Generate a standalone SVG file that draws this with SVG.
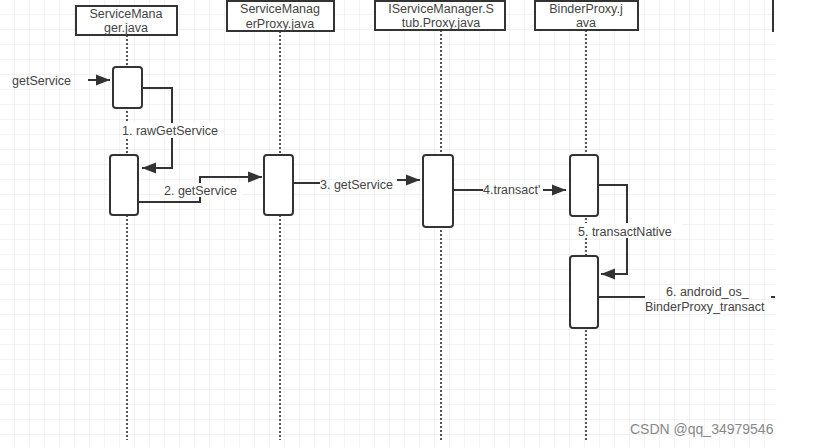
<svg xmlns="http://www.w3.org/2000/svg" width="814" height="447" viewBox="0 0 814 447">
<defs>
<pattern id="g" width="15" height="15" patternUnits="userSpaceOnUse"><path d="M15 0V15H0" fill="none" stroke="#e6e6e6" stroke-width="1"/></pattern>
<marker id="a" viewBox="0 0 10 10" refX="10" refY="5" markerWidth="7" markerHeight="7" orient="auto"><path d="M0 1L10 5L0 9z" fill="#333"/></marker>
<style>
text{font-family:"Liberation Sans",Arial,sans-serif;font-size:12.5px;fill:#444}
.h{fill:#fff;stroke:#333;stroke-width:2}
.act{fill:#fff;stroke:#333;stroke-width:2}
.ll{stroke:#555;stroke-width:2;stroke-dasharray:2 2}
.c{fill:none;stroke:#333;stroke-width:2}
.lb{fill:#fff}
</style>
</defs>
<rect width="814" height="447" fill="#fff"/>
<rect width="775" height="447" fill="url(#g)"/>
<line x1="773" y1="0" x2="773" y2="32" stroke="#333" stroke-width="2"/>
<g id="lifelines">
<line class="ll" x1="127" y1="35" x2="127" y2="440"/>
<line class="ll" x1="280" y1="31" x2="280" y2="440"/>
<line class="ll" x1="441" y1="30" x2="441" y2="440"/>
<line class="ll" x1="586" y1="30" x2="586" y2="440"/>
</g>
<g id="h1"><rect class="h" x="76" y="6" width="101" height="29"/><text x="126" y="18" text-anchor="middle">ServiceMana</text><text x="126" y="32" text-anchor="middle">ger.java</text></g>
<g id="h2"><rect class="h" x="227" y="1" width="107" height="30"/><text x="280" y="13" text-anchor="middle">ServiceManag</text><text x="280" y="28" text-anchor="middle">erProxy.java</text></g>
<g id="h3"><rect class="h" x="375" y="1" width="130" height="29"/><text x="441" y="13" text-anchor="middle">IServiceManager.S</text><text x="441" y="27" text-anchor="middle">tub.Proxy.java</text></g>
<g id="h4"><rect class="h" x="535" y="1" width="103" height="29"/><text x="586" y="13" text-anchor="middle">BinderProxy.j</text><text x="586" y="27" text-anchor="middle">ava</text></g>
<g id="acts">
<rect class="act" x="113" y="67" width="29" height="41" rx="3"/>
<rect class="act" x="110" y="155" width="28" height="60" rx="3"/>
<rect class="act" x="264" y="155" width="29" height="60" rx="3"/>
<rect class="act" x="423" y="155" width="30" height="72" rx="3"/>
<rect class="act" x="570" y="155" width="28" height="61" rx="3"/>
<rect class="act" x="570" y="256" width="28" height="72" rx="3"/>
</g>
<g id="connectors">
<text x="12" y="85">getService</text>
<path class="c" d="M88 80H110" marker-end="url(#a)"/>
<path class="c" d="M143 88H172V168H142" marker-end="url(#a)"/>
<rect class="lb" x="120" y="123" width="104" height="15"/><text x="122" y="135">1. rawGetService</text>
<path class="c" d="M139 202H200V177H262" marker-end="url(#a)"/>
<rect class="lb" x="162" y="183" width="80" height="14"/><text x="164" y="195">2. getService</text>
<path class="c" d="M293 183H320M397 180H420" marker-end="url(#a)"/>
<text x="320" y="189">3. getService</text>
<path class="c" d="M453 190H483M543 190H566" marker-end="url(#a)"/>
<text x="483" y="194">4.transact'</text>
<path class="c" d="M598 185H627V274H601" marker-end="url(#a)"/>
<rect class="lb" x="576" y="223" width="106" height="15"/><text x="578" y="236">5. transactNative</text>
<path class="c" d="M598 297H645"/>
<text x="666" y="296">6. android_os_</text>
<text x="645" y="311">BinderProxy_transact</text>
<line x1="771" y1="297" x2="775" y2="297" stroke="#333" stroke-width="2"/>
</g>
<text x="630" y="434" style="font-size:14px;fill:#888">CSDN @qq_34979546</text>
</svg>
